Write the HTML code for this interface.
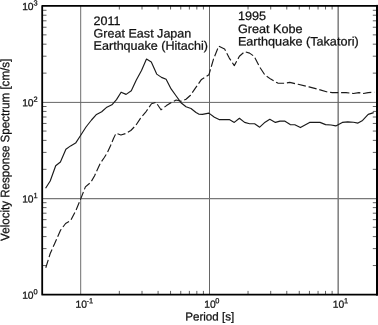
<!DOCTYPE html>
<html lang="en"><head><meta charset="utf-8"><title>Velocity Response Spectrum</title>
<style>html,body{margin:0;padding:0;background:#fff;overflow:hidden}svg{display:block}</style></head>
<body>
<svg width="378" height="325" viewBox="0 0 378 325" style="display:block">
<rect width="378" height="325" fill="#fff"/>
<path d="M80.7,5.9 V294.5" stroke="#6e6e6e" stroke-width="1" fill="none"/>
<path d="M209.5,5.9 V294.5" stroke="#666" stroke-width="1" fill="none"/>
<path d="M338.15,5.9 V294.5" stroke="#5c5c5c" stroke-width="1.2" fill="none"/>
<path d="M42.4,102.4 H376.9" stroke="#666" stroke-width="1" fill="none"/>
<path d="M42.4,198.6 H376.9" stroke="#787878" stroke-width="1.05" fill="none"/>
<path d="M119.34,294.5 v-3.6 M119.34,5.9 v3.6 M142.01,294.5 v-3.6 M142.01,5.9 v3.6 M158.09,294.5 v-3.6 M158.09,5.9 v3.6 M170.56,294.5 v-3.6 M170.56,5.9 v3.6 M180.75,294.5 v-3.6 M180.75,5.9 v3.6 M189.36,294.5 v-3.6 M189.36,5.9 v3.6 M196.83,294.5 v-3.6 M196.83,5.9 v3.6 M203.41,294.5 v-3.6 M203.41,5.9 v3.6 M248.04,294.5 v-3.6 M248.04,5.9 v3.6 M270.71,294.5 v-3.6 M270.71,5.9 v3.6 M286.79,294.5 v-3.6 M286.79,5.9 v3.6 M299.26,294.5 v-3.6 M299.26,5.9 v3.6 M309.45,294.5 v-3.6 M309.45,5.9 v3.6 M318.06,294.5 v-3.6 M318.06,5.9 v3.6 M325.53,294.5 v-3.6 M325.53,5.9 v3.6 M332.11,294.5 v-3.6 M332.11,5.9 v3.6 M42.4,265.54 h4.1 M376.9,265.54 h-4.1 M42.4,248.60 h4.1 M376.9,248.60 h-4.1 M42.4,236.58 h4.1 M376.9,236.58 h-4.1 M42.4,227.26 h4.1 M376.9,227.26 h-4.1 M42.4,219.64 h4.1 M376.9,219.64 h-4.1 M42.4,213.20 h4.1 M376.9,213.20 h-4.1 M42.4,207.62 h4.1 M376.9,207.62 h-4.1 M42.4,202.70 h4.1 M376.9,202.70 h-4.1 M42.4,169.34 h4.1 M376.9,169.34 h-4.1 M42.4,152.40 h4.1 M376.9,152.40 h-4.1 M42.4,140.38 h4.1 M376.9,140.38 h-4.1 M42.4,131.06 h4.1 M376.9,131.06 h-4.1 M42.4,123.44 h4.1 M376.9,123.44 h-4.1 M42.4,117.00 h4.1 M376.9,117.00 h-4.1 M42.4,111.42 h4.1 M376.9,111.42 h-4.1 M42.4,106.50 h4.1 M376.9,106.50 h-4.1 M42.4,73.14 h4.1 M376.9,73.14 h-4.1 M42.4,56.20 h4.1 M376.9,56.20 h-4.1 M42.4,44.18 h4.1 M376.9,44.18 h-4.1 M42.4,34.86 h4.1 M376.9,34.86 h-4.1 M42.4,27.24 h4.1 M376.9,27.24 h-4.1 M42.4,20.80 h4.1 M376.9,20.80 h-4.1 M42.4,15.22 h4.1 M376.9,15.22 h-4.1 M42.4,10.30 h4.1 M376.9,10.30 h-4.1" stroke="#383838" stroke-width="0.8" fill="none"/>
<path d="M45.6,188.3 L50.2,181.0 L55.7,165.8 L60.4,162.0 L65.9,149.3 L70.6,145.9 L75.6,143.1 L80.4,135.7 L86.0,127.0 L91.5,120.0 L96.5,114.4 L101.7,111.7 L106.3,107.6 L111.9,104.8 L116.5,99.6 L121.1,92.2 L126.1,94.4 L131.3,90.7 L136.2,80.3 L141.5,70.4 L146.5,59.1 L151.3,61.9 L156.7,74.1 L161.5,77.4 L166.1,79.3 L171.1,88.9 L176.2,96.0 L181.0,102.7 L186.0,106.8 L191.0,108.5 L196.0,112.5 L198.7,114.1 L202.4,114.4 L208.9,113.1 L214.4,117.2 L219.1,119.6 L229.3,119.6 L234.3,122.4 L239.4,118.3 L244.6,122.4 L249.6,123.7 L254.6,123.7 L259.7,127.2 L265.1,122.2 L269.8,119.3 L275.4,122.4 L280.0,121.1 L284.6,121.1 L290.2,124.6 L294.8,124.8 L300.4,127.6 L309.6,122.4 L320.0,122.4 L325.6,124.6 L331.1,125.0 L335.8,125.9 L342.3,122.4 L347.8,121.9 L353.4,122.2 L358.0,123.1 L362.6,120.4 L368.2,114.4 L373.7,112.6" stroke="#1a1a1a" stroke-width="1.15" fill="none" stroke-linejoin="round"/>
<path d="M45.6,268.3 L50.2,253.5 L54.8,243.3 L60.4,230.4 L65.6,223.5 L70.6,220.7 L76.1,210.0 L80.7,198.9 L85.4,186.9 L90.9,182.2 L94.6,175.7 L100.2,163.5 L104.3,157.5 L107.4,152.6 L110.5,145.8 L113.5,138.5 L116.0,133.3 L120.9,135.0 L125.8,133.5 L130.8,130.5 L135.7,125.5 L140.6,118.1 L146.3,111.3 L151.5,103.7 L156.0,102.3 L161.0,109.8 L166.5,105.6 L171.6,102.3 L176.2,100.0 L181.0,101.3 L186.0,99.3 L190.5,95.3 L195.2,88.4 L201.5,79.4 L208.9,74.8 L213.5,59.1 L218.7,46.1 L224.6,48.9 L229.3,58.1 L234.3,65.6 L239.4,56.3 L244.6,51.7 L249.6,53.1 L254.3,56.5 L259.5,66.8 L264.9,75.0 L270.7,79.1 L277.8,83.1 L284.3,83.3 L289.8,82.4 L298.1,84.3 L309.0,86.9 L318.0,89.2 L326.5,91.7 L332.1,92.6 L338.6,92.6 L346.0,92.6 L353.4,93.5 L358.9,92.6 L363.5,93.5 L368.2,92.6 L374.3,92.2" stroke="#1a1a1a" stroke-width="1.15" fill="none" stroke-linejoin="round" stroke-dasharray="8.3 2.8" stroke-dashoffset="-0.6"/>
<path d="M42.2,5.8 H377 V294.7 H42.2 Z" stroke="#000" stroke-width="1.8" fill="none" stroke-linejoin="round"/>
<rect x="376.05" y="4.9" width="2" height="290.7" fill="#000"/>
<text transform="translate(33.60,10.10) rotate(0.03)" text-anchor="end" font-family="Liberation Sans, Arial, Helvetica, sans-serif" fill="#111" stroke="#111" stroke-width="0.25" font-size="10.3">10</text>
<text transform="translate(33.60,5.60) rotate(0.03)" text-anchor="start" font-family="Liberation Sans, Arial, Helvetica, sans-serif" fill="#111" stroke="#111" stroke-width="0.25" font-size="7.4">3</text>
<text transform="translate(33.60,106.30) rotate(0.03)" text-anchor="end" font-family="Liberation Sans, Arial, Helvetica, sans-serif" fill="#111" stroke="#111" stroke-width="0.25" font-size="10.3">10</text>
<text transform="translate(33.60,101.80) rotate(0.03)" text-anchor="start" font-family="Liberation Sans, Arial, Helvetica, sans-serif" fill="#111" stroke="#111" stroke-width="0.25" font-size="7.4">2</text>
<text transform="translate(33.60,202.50) rotate(0.03)" text-anchor="end" font-family="Liberation Sans, Arial, Helvetica, sans-serif" fill="#111" stroke="#111" stroke-width="0.25" font-size="10.3">10</text>
<text transform="translate(33.60,198.00) rotate(0.03)" text-anchor="start" font-family="Liberation Sans, Arial, Helvetica, sans-serif" fill="#111" stroke="#111" stroke-width="0.25" font-size="7.4">1</text>
<text transform="translate(33.60,298.70) rotate(0.03)" text-anchor="end" font-family="Liberation Sans, Arial, Helvetica, sans-serif" fill="#111" stroke="#111" stroke-width="0.25" font-size="10.3">10</text>
<text transform="translate(33.60,294.20) rotate(0.03)" text-anchor="start" font-family="Liberation Sans, Arial, Helvetica, sans-serif" fill="#111" stroke="#111" stroke-width="0.25" font-size="7.4">0</text>
<text transform="translate(81.20,307.80) rotate(0.03)" text-anchor="middle" font-family="Liberation Sans, Arial, Helvetica, sans-serif" fill="#111" stroke="#111" stroke-width="0.25" font-size="10.3">10</text>
<text transform="translate(86.60,303.20) rotate(0.03)" text-anchor="start" font-family="Liberation Sans, Arial, Helvetica, sans-serif" fill="#111" stroke="#111" stroke-width="0.25" font-size="7.4">-1</text>
<text transform="translate(209.90,307.80) rotate(0.03)" text-anchor="middle" font-family="Liberation Sans, Arial, Helvetica, sans-serif" fill="#111" stroke="#111" stroke-width="0.25" font-size="10.3">10</text>
<text transform="translate(215.30,303.20) rotate(0.03)" text-anchor="start" font-family="Liberation Sans, Arial, Helvetica, sans-serif" fill="#111" stroke="#111" stroke-width="0.25" font-size="7.4">0</text>
<text transform="translate(338.60,307.80) rotate(0.03)" text-anchor="middle" font-family="Liberation Sans, Arial, Helvetica, sans-serif" fill="#111" stroke="#111" stroke-width="0.25" font-size="10.3">10</text>
<text transform="translate(344.00,303.20) rotate(0.03)" text-anchor="start" font-family="Liberation Sans, Arial, Helvetica, sans-serif" fill="#111" stroke="#111" stroke-width="0.25" font-size="7.4">1</text>
<text transform="translate(209.70,320.60) rotate(0.03)" text-anchor="middle" font-family="Liberation Sans, Arial, Helvetica, sans-serif" fill="#111" stroke="#111" stroke-width="0.25" font-size="11.6">Period [s]</text>
<text transform="translate(9.20,149.80) rotate(-89.97) scale(0.943,1)" text-anchor="middle" font-family="Liberation Sans, Arial, Helvetica, sans-serif" fill="#111" stroke="#111" stroke-width="0.25" font-size="12.3">Velocity Response Spectrum [cm/s]</text>
<text transform="translate(93.60,25.10) rotate(0.03) scale(1.03,1)" text-anchor="start" font-family="Liberation Sans, Arial, Helvetica, sans-serif" fill="#111" stroke="#111" stroke-width="0.25" font-size="12.2">2011</text>
<text transform="translate(93.60,37.50) rotate(0.03) scale(1.03,1)" text-anchor="start" font-family="Liberation Sans, Arial, Helvetica, sans-serif" fill="#111" stroke="#111" stroke-width="0.25" font-size="12.2">Great East Japan</text>
<text transform="translate(93.60,49.80) rotate(0.03) scale(1.03,1)" text-anchor="start" font-family="Liberation Sans, Arial, Helvetica, sans-serif" fill="#111" stroke="#111" stroke-width="0.25" font-size="12.2">Earthquake (Hitachi)</text>
<text transform="translate(237.90,20.10) rotate(0.03) scale(1.037,1)" text-anchor="start" font-family="Liberation Sans, Arial, Helvetica, sans-serif" fill="#111" stroke="#111" stroke-width="0.25" font-size="12.2">1995</text>
<text transform="translate(237.90,32.90) rotate(0.03) scale(1.037,1)" text-anchor="start" font-family="Liberation Sans, Arial, Helvetica, sans-serif" fill="#111" stroke="#111" stroke-width="0.25" font-size="12.2">Great Kobe</text>
<text transform="translate(237.90,45.50) rotate(0.03) scale(1.037,1)" text-anchor="start" font-family="Liberation Sans, Arial, Helvetica, sans-serif" fill="#111" stroke="#111" stroke-width="0.25" font-size="12.2">Earthquake (Takatori)</text>
</svg>
</body></html>
